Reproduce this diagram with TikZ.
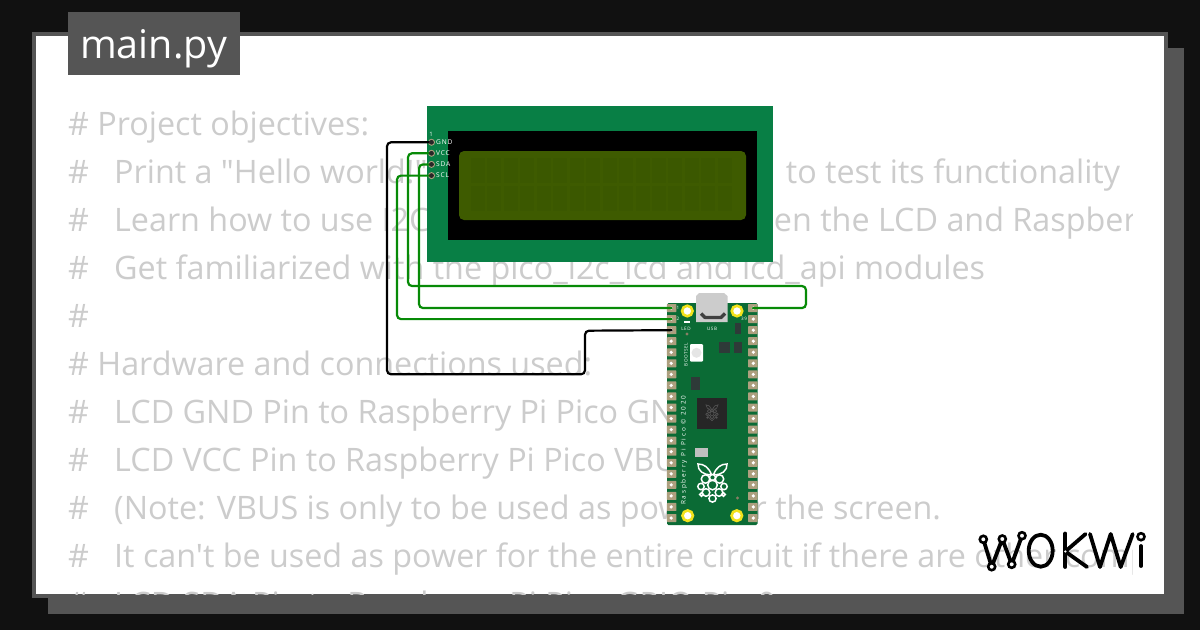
\documentclass[tikz,border=0pt]{standalone}
\usepackage{fontspec}
\setmainfont{Open Sans}
\newfontfamily\codefont{Open Sans}
\newfontfamily\lblfont[LetterSpace=12]{Open Sans}
\newfontfamily\picofont[LetterSpace=28]{Open Sans}
\definecolor{bgk}{HTML}{111111}
\definecolor{pan}{HTML}{555555}
\definecolor{codetxt}{HTML}{CCCCCC}
\definecolor{lcdgreen}{HTML}{087F45}
\definecolor{lcdolive}{HTML}{3E5B00}
\definecolor{lcdcell}{HTML}{3B5800}
\definecolor{board}{HTML}{0B6B35}
\definecolor{padc}{HTML}{AD9F7E}
\definecolor{chipc}{HTML}{2E3A38}
\definecolor{wiregreen}{HTML}{078A07}
\definecolor{ringc}{HTML}{F2E21B}
\newcommand{\rplogo}[2]{%
  \draw[#1,line width=#2] (-1,-9) .. controls (-4,-16) and (-8,-19.5) .. (-14.5,-19.5) .. controls (-15,-13) and (-9,-8) .. (-1,-9);
  \draw[#1,line width=#2] (1,-9) .. controls (4,-16) and (8,-19.5) .. (14.5,-19.5) .. controls (15,-13) and (9,-8) .. (1,-9);
  \foreach \cx/\cy/\cr in {-7/-4.5/4.2,7/-4.5/4.2,0/-6/3,-11.5/3/3.2,11.5/3/3.2,0/1.5/4.8,-6.5/9/3.8,6.5/9/3.8,0/15/3.6,-11/11/1.8,11/11/1.8}
    \draw[#1,line width=#2] (\cx,\cy) circle[radius=\cr];
}
\tikzset{
  wire/.style={line width=2.2pt,rounded corners=4pt,line cap=round},
  lcdpin/.style={circle,fill=padc,minimum size=7pt,inner sep=0pt},
  lcdlbl/.style={anchor=west,inner sep=0pt,text=white,font=\lblfont\fontsize{6.6pt}{7pt}\selectfont},
  pcblbl/.style={inner sep=0pt,text=white,font=\lblfont\fontsize{4.6pt}{6pt}\selectfont},
  chip/.style={fill=chipc},
  padnode/.style={rectangle,fill=padc,minimum width=9.5pt,minimum height=8pt,inner sep=0pt,rounded corners=0.6pt},
  ring/.style={draw=ringc,line width=2.6pt,fill=white,circle,minimum size=10.5pt,inner sep=0pt},
}
\begin{document}
\begin{tikzpicture}[x=1pt,y=-1pt]
\useasboundingbox (0,0) rectangle (1200,630);
\fill[bgk] (0,0) rectangle (1200,630);
\fill[pan] (48,48) rectangle (1184,614);
\fill[pan] (32,32) rectangle (1168,598);
\fill[white] (36,36) rectangle (1164,594);
\begin{scope}
\clip (36,36) rectangle (1132,594);
\foreach \i/\t in {0/{\# Project objectives:},
1/{\#\ \ \ Print a "Hello world!" message onto the LCD\hspace{4pt} to test its functionality},
2/{\#\ \ \ Learn how to use I2C communication between the LCD and Raspberry Pi Pico},
3/{\#\ \ \ Get familiarized with the pico\_i2c\_lcd and lcd\_api modules},
4/{\#},
5/{\# Hardware and connections used:},
6/{\#\ \ \ LCD GND Pin to Raspberry Pi Pico GND Pin},
7/{\#\ \ \ LCD VCC Pin to Raspberry Pi Pico VBUS Pin},
8/{\#\ \ \ (Note: VBUS is only to be used as power for the screen.},
9/{\#\ \ \ It can't be used as power for the entire circuit if there are other components},
10/{\#\ \ \ LCD SDA Pin to Raspberry Pi Pico GPIO Pin 0}}
\node[anchor=base west,inner sep=0,text=codetxt,font=\codefont\fontsize{32.3pt}{33pt}\selectfont] (l\i) at (68,135.5+48*\i) {\t};
\end{scope}
\fill[pan] (68,12) rectangle (240,75);
\node[anchor=base west,inner sep=0,text=white,font=\fontsize{39.5pt}{40pt}\selectfont] (tab) at (80,58) {main.py};
% LCD
\fill[lcdgreen] (427,106) rectangle (773,262);
\fill[black] (448,131) rectangle (757,240);
\fill[lcdolive,rounded corners=5pt] (459,151) rectangle (746,220);
\foreach \c in {0,...,15}{
  \fill[lcdcell] (471+16.45*\c,158) rectangle ++(14,25);
  \fill[lcdcell] (471+16.45*\c,186) rectangle ++(14,25);
}
\node[lcdpin] (lg) at (431.5,142.3) {};
\node[lcdpin] (lv) at (431.5,153.3) {};
\node[lcdpin] (ld) at (431.5,164.4) {};
\node[lcdpin] (lc) at (431.5,175.6) {};
\node[lcdlbl,anchor=center,font=\lblfont\fontsize{6pt}{7pt}\selectfont] (one) at (431,134) {1};
\node[lcdlbl] (tg) at (436,142.5) {GND};
\node[lcdlbl] (tv) at (436,153.3) {VCC};
\node[lcdlbl] (td) at (436,164.6) {SDA};
\node[lcdlbl] (tc) at (436,175.6) {SCL};
% Pico
\fill[board,rounded corners=1.5pt] (667,303) rectangle (757.5,525);
\foreach \k in {1,...,20}{
  \node[padnode] (L\k) at (671.7,297+11.05*\k) {};
  \node[padnode] (R\k) at (752.8,297+11.05*\k) {};
  \fill[white] (L\k.center) ++(-0.5,0) circle[radius=1.8];
  \fill[white] (R\k.center) ++(0.5,0) circle[radius=1.8];
}
\node[ring] (m1) at (687.3,311) {};
\node[ring] (m2) at (737,311) {};
\node[ring] (m3) at (687.7,515.7) {};
\node[ring] (m4) at (736.8,515.7) {};
% USB
\fill[black!20] (696,322) -- (696,296) -- (699,293) -- (724,293) -- (727.5,296) -- (727.5,322) -- cycle;
\draw[black!75,line width=3.4pt,line join=round] (701,313.5) -- (705,317.5) -- (721,317.5) -- (725,313.5);
\fill[white] (684,320.5) rectangle (690,323);
\fill[padc!80!black] (687,334) circle[radius=1.6];
\fill[padc!80!black] (737.5,498) circle[radius=1.6];
\node[pcblbl] (tled) at (686,328.5) {LED};
\node[pcblbl] (tusb) at (712,328.5) {USB};
\node[pcblbl] (t1) at (678,308) {1};
\node[pcblbl] (t2) at (678,319) {2};
\node[pcblbl] (t39) at (744,319) {39};
\node[pcblbl,rotate=90] (tboot) at (686,354.5) {BOOTSEL};
\fill[white,rounded corners=1pt] (690,344) rectangle (703,361.5);
\fill[black!10] (696.5,352.8) circle[radius=5];
\fill[chip] (734.5,323) rectangle (741,334);
\fill[chip] (719,342) rectangle (730,353);
\fill[chip] (733.5,342) rectangle (742,353);
\fill[chip] (691,377) rectangle (700,390);
\fill[black!85] (697,398) rectangle (727,428.5);
\begin{scope}[shift={(712,413)},scale=0.42]
\rplogo{black!65}{0.5pt}
\end{scope}
\fill[black!25] (695,448) rectangle (708,456.5);
\begin{scope}[shift={(712.5,483.5)}]
\rplogo{white}{1.5pt}
\end{scope}
\node[inner sep=0pt,text=white,rotate=90,anchor=west,font=\picofont\fontsize{6.4pt}{7pt}\selectfont] (tpico) at (684,505) {Raspberry Pi Pico © 2020};
% wires
\draw[wire,black] (lg.center) -| (387,374.3) -| (585,330.7) -- (L3.center);
\draw[wire,wiregreen] (lv.center) -| (408,286) -| (806,308.05) -- (R1.center);
\draw[wire,wiregreen] (ld.center) -| (419,308.05) -- (L1.center);
\draw[wire,wiregreen] (lc.center) -| (397,319.1) -- (L2.center);
\foreach \n in {lg,lv,ld,lc}
  \fill[black!85] (\n.center) circle[radius=2.4];
% logo
\begin{scope}[line width=3.8pt,line cap=round,line join=round,black]
\draw (983.3,539.3) -- (991.7,566.7) -- (1002.3,539) -- (1011.7,564.3) -- (1022,535.7);
\draw (1040.7,550.7) ellipse[x radius=12,y radius=16];
\draw (1065.3,533.5) -- (1065.3,567);
\draw (1085.5,534) -- (1065.3,551.5) -- (1087,567);
\draw (1090,534) -- (1100,567) -- (1110.7,534) -- (1120.7,567) -- (1132.7,534);
\draw (1141,546) -- (1141,566);
\end{scope}
\foreach \lx/\ly in {983.3/539.3,1002.3/539,1022/535.7,991.7/566.7,1011.7/564.3,1141/536.7}
  \draw[black,line width=2.6pt,fill=white] (\lx,\ly) circle[radius=3.5];
\fill[white] (1065.3,551.5) circle[radius=1.2];
\end{tikzpicture}
\end{document}
